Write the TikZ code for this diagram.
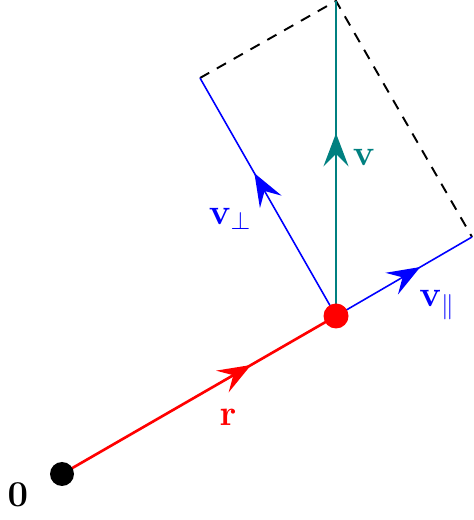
\documentclass[tikz,border=0pt]{standalone}
\usepackage{amsmath,xcolor}
\usetikzlibrary{calc,arrows.meta,decorations.markings}
\definecolor{vteal}{RGB}{0,128,128}
\tikzset{
  midArrow/.style={decoration={markings,mark=at position #1 with {\arrow{Stealth[length=6.6mm,width=5mm,inset=2.5mm]}}}, postaction={decorate}},
  dotNode/.style={circle,inner sep=0pt,minimum size=#1}
}

\begin{document}
\begin{tikzpicture}[font=\huge]
      \useasboundingbox (0,0) rectangle (9.48,10.4);
      % points
      \coordinate (O) at (1.24,0.92);
      \coordinate (P) at (6.72,4.08);
      \coordinate (Vpar) at (9.44,5.66);
      \coordinate (Vperp) at (4.0,8.84);
      \coordinate (Vtop) at (6.72,10.38);
      % parallelogram
      \draw[black,line width=1.1pt,dashed,dash pattern=on 6pt off 5pt](Vperp)--(Vtop)--(Vpar);
      \draw[blue,line width=0.9pt,midArrow=0.62](P)--(Vpar);
      \draw[blue,line width=0.9pt,midArrow=0.6](P)--(Vperp);
      \draw[vteal,line width=1.1pt,midArrow=0.58](P)--(Vtop);
      \draw[red,line width=1.5pt,midArrow=0.69](O)--(P);
      \node[dotNode=0.48cm,fill=black] (Odot) at (O) {};
      \node[dotNode=0.5cm,fill=red] (Pdot) at (P) {};
      % labels
      \node[black] (lO) at (0.36,0.5) {$\mathbf{0}$};
      \node[red] (lr) at (4.56,2.06) {$\mathbf{r}$};
      \node[vteal] (lv) at (7.28,7.26) {$\mathbf{v}$};
      \node[blue] (lpar) at (8.74,4.3) {$\mathbf{v}_\parallel$};
      \node[blue] (lperp) at (4.6,6.02) {$\mathbf{v}_\perp$};
\end{tikzpicture}
\end{document}
